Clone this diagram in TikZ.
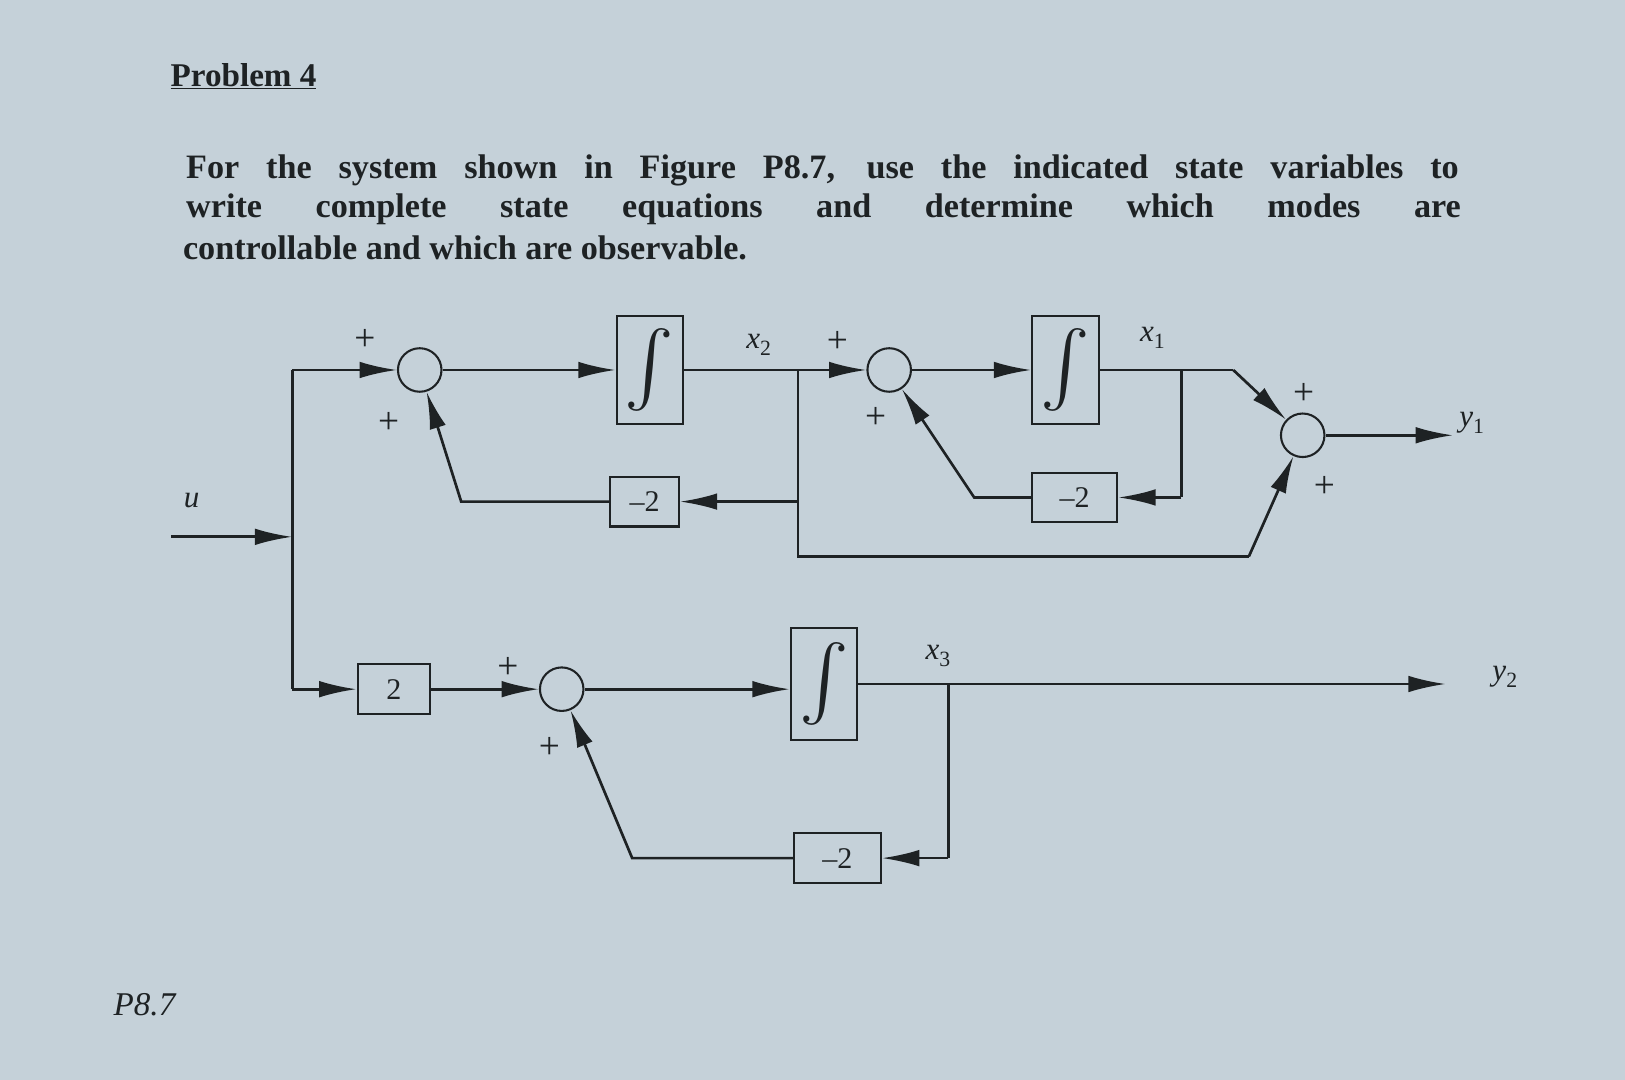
\documentclass[tikz,border=0pt]{standalone}
\usepackage{fontspec}
\usepackage{graphicx}
\setmainfont{Liberation Serif}
\usetikzlibrary{arrows.meta}
\definecolor{paper}{RGB}{197,209,217}
\definecolor{ink}{RGB}{30,34,36}
\newcommand{\sv}[2]{\textit{#1}\raisebox{-7pt}{\fontsize{21}{21}\selectfont #2}}
\newcommand{\bigint}{\resizebox{!}{58pt}{$\int$}}
\begin{document}
\begin{tikzpicture}[x=1pt,y=-1pt,
  line width=2.6pt, draw=ink, text=ink,
  blk/.style={draw,line width=2pt,minimum width=66pt,minimum height=48pt,inner sep=0pt,font=\fontsize{29}{30}\selectfont},
  intb/.style={draw,line width=2pt,minimum width=64pt,minimum height=104pt,inner sep=0pt},
  sumc/.style={draw,circle,line width=2pt,minimum size=42pt,inner sep=0pt},
  ar/.style={-{Latex[length=36pt,width=16pt]}},
  lab/.style={font=\fontsize{30}{30}\selectfont},
  pl/.style={font=\fontsize{36}{36}\selectfont}]
\fill[paper] (0,0) rectangle (1568,1042);
\useasboundingbox (0,0) rectangle (1568,1042);
% heading
\node[anchor=base west,font=\fontsize{32}{36}\selectfont\bfseries] (head) at (160,83) {\underline{Problem 4}};
\node[anchor=base west,font=\fontsize{33}{36}\selectfont\bfseries] (l1) at (175,172) {\makebox[1228pt][s]{For the system shown in Figure P8.7, use the indicated state variables to}};
\node[anchor=base west,font=\fontsize{33}{36}\selectfont\bfseries] (l2) at (175,210) {\makebox[1230pt][s]{write complete state equations and determine which modes are}};
\node[anchor=base west,font=\fontsize{33}{36}\selectfont\bfseries] (l3) at (172,250) {controllable and which are observable.};
% blocks
\node[sumc] (s1) at (405,357) {};
\node[intb] (i1) at (627,357) {\bigint};
\node[blk] (g1) at (622,484) {–2};
\node[sumc] (s2) at (858,357) {};
\node[intb] (i2) at (1028,357) {\bigint};
\node[blk,minimum width=82pt] (g2) at (1037,480) {–2};
\node[sumc] (s3) at (1257,420) {};
\node[blk,minimum width=70pt] (k2) at (380,665) {2};
\node[sumc] (s4) at (542,665) {};
\node[intb,minimum height=108pt] (i3) at (795,660) {\bigint};
\node[blk,minimum width=84pt] (g3) at (808,828) {–2};
% coordinates
\coordinate (uin) at (165,518);
\coordinate (uj) at (282,518);
\coordinate (ut) at (282,357);
\coordinate (ub) at (282,665);
\coordinate (j2) at (770,357);
\coordinate (j2a) at (770,484);
\coordinate (j2b) at (770,537);
\coordinate (f1) at (445,484);
\coordinate (j1) at (1140,357);
\coordinate (j1a) at (1140,480);
\coordinate (c1) at (1190,357);
\coordinate (f2) at (940,480);
\coordinate (c2) at (1205,537);
\coordinate (y1) at (1402,420);
\coordinate (j3) at (915,660);
\coordinate (j3a) at (915,828);
\coordinate (f3) at (610,828);
\coordinate (y2) at (1395,660);
% connectors
\draw[ar] (uin) -- (uj);
\draw (ut) -- (ub);
\draw[ar] (ut) -- (s1);
\draw[ar] (ub) -- (k2);
\draw[ar] (s1) -- (i1);
\draw[ar] (i1) -- (s2);
\draw (j2) -- (j2b) -- (c2);
\draw[ar] (j2a) -- (g1);
\draw[ar] (g1.west) -- (f1) -- (s1);
\draw[ar] (s2) -- (i2);
\draw (i2) -- (c1);
\draw[ar] (c1) -- (s3);
\draw (j1) -- (j1a);
\draw[ar] (j1a) -- (g2);
\draw[ar] (g2.west) -- (f2) -- (s2);
\draw[ar] (c2) -- (s3);
\draw[ar] (s3) -- (y1);
\draw[ar] (k2) -- (s4);
\draw[ar] (s4) -- (i3.west |- s4);
\draw[ar] (i3.east |- j3) -- (y2);
\draw (j3) -- (j3a);
\draw[ar] (j3a) -- (g3);
\draw[ar] (g3.west) -- (f3) -- (s4);
% labels
\node[lab] (lu) at (185,483) {\textit{u}};
\node[lab] (lx2) at (732,333) {\sv{x}{2}};
\node[lab] (lx1) at (1112,326) {\sv{x}{1}};
\node[lab] (lx3) at (905,633) {\sv{x}{3}};
\node[lab] (ly1) at (1420,408) {\sv{y}{1}};
\node[lab] (ly2) at (1452,653) {\sv{y}{2}};
\node[pl] (p1) at (352,328) {+};
\node[pl] (p2) at (375,408) {+};
\node[pl] (p3) at (808,330) {+};
\node[pl] (p4) at (845,403) {+};
\node[pl] (p5) at (1258,380) {+};
\node[pl] (p6) at (1278,470) {+};
\node[pl] (p7) at (490,645) {+};
\node[pl] (p8) at (530,722) {+};
\node[anchor=base west,font=\fontsize{32}{32}\selectfont\itshape] (fig) at (105,980) {P8.7};
\end{tikzpicture}
\end{document}
